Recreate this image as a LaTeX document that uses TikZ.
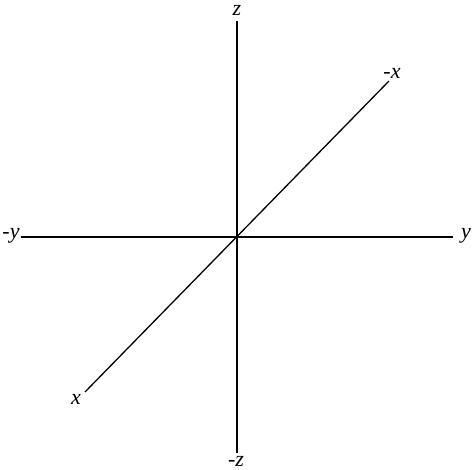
\documentclass[tikz,border=0pt]{standalone}
\usepackage{fontspec}
\setmainfont{Liberation Serif}
\begin{document}
\begin{tikzpicture}[x=1pt,y=-1pt,
  axis/.style={line width=1.3pt,black},
  lab/.style={font=\fontsize{22}{26}\selectfont\itshape,inner sep=0pt}]
\useasboundingbox (0,0) rectangle (474,470);
\coordinate (zt) at (237,21);
\coordinate (zb) at (237,453);
\coordinate (yl) at (21,237);
\coordinate (yr) at (453,237);
\coordinate (xt) at (389,81);
\coordinate (xb) at (85,392);
\draw[axis] (zt) -- (zb);
\draw[axis] (yl) -- (yr);
\draw[axis] (xb) -- (xt);
\node[lab] (lz) at (237,10) {z};
\node[lab] (lmz) at (236,461) {-z};
\node[lab] (lmy) at (11,236) {-y};
\node[lab] (ly) at (466,236) {y};
\node[lab] (lmx) at (392,73) {-x};
\node[lab] (lx) at (76,399) {x};
\end{tikzpicture}
\end{document}
